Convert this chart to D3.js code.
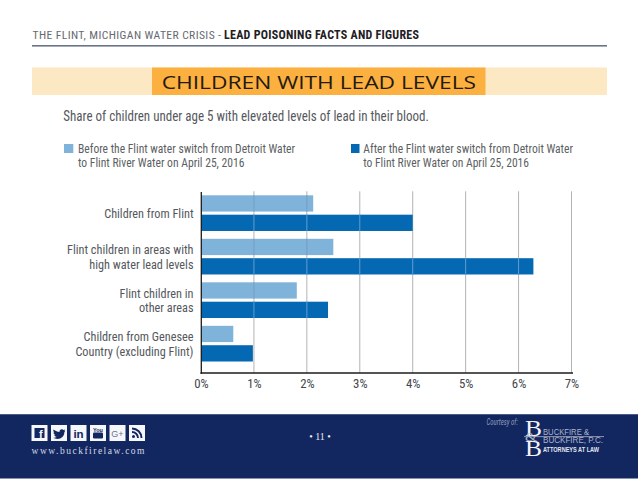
<!DOCTYPE html>
<html><head><meta charset="utf-8">
<script src="https://cdn.jsdelivr.net/npm/d3@7"></script>
<style>html,body{margin:0;padding:0;background:#fff}svg{display:block}</style>
</head><body><div id="c"></div>
<script>
const categories=["Children from Flint","Flint children in areas with|high water lead levels","Flint children in|other areas","Children from Genesee|Country (excluding Flint)"];
const seriesKeys=["before","after"];
const beforeValues=[2.12,2.5,1.81,0.61];
const afterValues=[4.0,6.28,2.4,0.98];
const xTicks=[0,1,2,3,4,5,6,7];
const legendBefore=["Before the Flint water switch from Detroit Water","to Flint River Water on April 25, 2016"];
const legendAfter=["After the Flint water switch from Detroit Water","to Flint River Water on April 25, 2016"];
const colors={before:"#80b3da",after:"#0568b3"};
const gridOnBar={before:"#6f9dc0",after:"#6ba4d0"};

const F="'Roboto Condensed','Liberation Sans Narrow',Roboto,sans-serif";
const serif="'Liberation Serif',serif", sans="'Liberation Sans',sans-serif";
const svg=d3.select("#c").append("svg").attr("width",638).attr("height",479);
function label(x,y,s,size,fill,o={}){
  const t=svg.append("text").attr("x",x).attr("y",y).text(s).attr("font-size",size).attr("fill",fill)
    .attr("text-anchor",o.anchor||"start").attr("font-family",o.family||F).attr("font-weight",o.weight||400);
  if(o.style)t.attr("font-style",o.style);
  if(o.width)t.attr("textLength",o.width).attr("lengthAdjust",o.adjust||"spacingAndGlyphs");
  if(o.squeeze)t.attr("textLength",t.node().getComputedTextLength()*o.squeeze).attr("lengthAdjust","spacingAndGlyphs");
  return t;
}
function box(x,y,w,h,fill){return svg.append("rect").attr("x",x).attr("y",y).attr("width",w).attr("height",h).attr("fill",fill);}

// header
label(32.5,39,"THE FLINT, MICHIGAN WATER CRISIS -",11.6,"#666a70",{width:188.5,adjust:"spacing"});
label(224,39,"LEAD POISONING FACTS AND FIGURES",12,"#1e2024",{weight:700,width:195,adjust:"spacing"});
box(32,45,575,1.6,"#6a7688");

// title band
box(32,67.5,575,27.5,"#fde8c4");
box(152,67.5,333.5,27.5,"#fbb040");
label(161.7,89,"CHILDREN WITH LEAD LEVELS",18.6,"#231a10",{family:"'Open Sans',sans-serif",weight:500,width:314.3});

// subtitle
label(63.3,121,"Share of children under age 5 with elevated levels of lead in their blood.",14.5,"#55585d",{width:365.7});

// legend
box(64,144,9.3,9,colors.before);
label(78,153,legendBefore[0],12.8,"#5c5f64",{width:217});
label(78,167.3,legendBefore[1],12.8,"#5c5f64",{width:166.5});
box(351,144,8.5,9,colors.after);
label(363.3,153,legendAfter[0],12.8,"#5c5f64",{width:209.7});
label(363.3,167.3,legendAfter[1],12.8,"#5c5f64",{width:165.7});

// chart
const x=d3.scaleLinear().domain([0,7]).range([201,571.5]);
const y0=d3.scaleBand().domain(categories).range([195.3,361.5]).paddingInner(0.18);
const y1=d3.scaleBand().domain(seriesKeys).range([0,y0.bandwidth()]).paddingInner(0.16);
const data=categories.map((c,i)=>({c,before:beforeValues[i],after:afterValues[i]}));

// grid lines
svg.append("g").selectAll("line").data(xTicks.slice(1)).join("line")
  .attr("x1",d=>x(d)).attr("x2",d=>x(d)).attr("y1",191.3).attr("y2",373)
  .attr("stroke","#aaaaaa").attr("stroke-width",.9);

const cat=svg.append("g").selectAll("g").data(data).join("g")
  .attr("transform",d=>`translate(0,${y0(d.c)})`);
const bar=cat.selectAll("g").data(d=>seriesKeys.map(k=>({k,v:d[k]}))).join("g");
bar.append("rect")
  .attr("x",x(0)).attr("y",d=>y1(d.k)).attr("width",d=>x(d.v)-x(0)).attr("height",y1.bandwidth())
  .attr("fill",d=>colors[d.k]);
// grid lines showing through the bars
bar.selectAll("line").data(d=>xTicks.slice(1).filter(t=>t<d.v).map(t=>({t,k:d.k}))).join("line")
  .attr("x1",d=>x(d.t)).attr("x2",d=>x(d.t))
  .attr("y1",d=>y1(d.k)).attr("y2",d=>y1(d.k)+y1.bandwidth())
  .attr("stroke",d=>gridOnBar[d.k]).attr("stroke-width",.9);

const axB=svg.append("g").attr("transform","translate(0,373)")
  .call(d3.axisBottom(x).tickValues(xTicks).tickFormat(d=>d+"%").tickSize(0).tickPadding(5));
axB.select(".domain").attr("d",`M${x(0)-.5},0H${x(7)+1.5}`).attr("stroke","#1d1d1d").attr("stroke-width",1.3);
axB.selectAll("text").attr("font-family",F).attr("font-size",13.5).attr("fill","#44474b")
  .each(function(){d3.select(this).attr("textLength",this.getComputedTextLength()*.95).attr("lengthAdjust","spacingAndGlyphs");});

const axL=svg.append("g").attr("transform","translate(200.8,0)")
  .call(d3.axisLeft(d3.scaleLinear().domain([0,1]).range([373.5,191.5])).tickValues([]).tickSize(0));
axL.select(".domain").attr("stroke","#1d1d1d").attr("stroke-width",1.3);

// category labels
const lh=14.5;
categories.forEach(c=>{
  const lines=c.split("|"), mid=y0(c)+y0.bandwidth()/2;
  lines.forEach((l,j)=>{
    label(193.5,mid+4.8+(j-(lines.length-1)/2)*lh,l,13.6,"#55585d",{anchor:"end",squeeze:.9});
  });
});

// footer
box(0,414,638,64.5,"#12265f");
box(0,414,638,.8,"#5c6a94");
const iconX=[31.5,51,70.5,90,109.5,129];
iconX.forEach(v=>box(v,425,16,16,"#f6f7fa"));
const navy="#12265f";
// facebook
box(34.5,428,10,10,navy);
label(39,438,"f",11,"#f6f7fa",{family:sans,weight:700});
// twitter
svg.append("path").attr("d","M53.5 429.5c2 1.5 4 2.5 6 2.5-.3-2.5 2.7-3.5 4-2l1.7-.5-.9 1.5 1.2-.2-1.1 1.2c0 4-3 7-7 7-1.6 0-3-.5-4-1.2 1.3 0 2.5-.3 3.3-1-1.2 0-2-.8-2.4-1.8h1.1c-1.2-.4-1.9-1.4-1.9-2.5l1 .3c-1-.8-1.4-2-1-3.3z").attr("fill",navy);
label(78.5,437.5,"in",11.5,navy,{family:sans,weight:700,anchor:"middle"});
// youtube
label(98,431.5,"You",5.5,navy,{family:sans,weight:700,anchor:"middle"});
svg.append("rect").attr("x",93).attr("y",432.5).attr("width",10).attr("height",6).attr("rx",1.3).attr("fill",navy);
label(117.5,437,"G+",9,"#6a7488",{family:sans,anchor:"middle"});
// rss
svg.append("circle").attr("cx",133.5).attr("cy",436.5).attr("r",1.5).attr("fill",navy);
svg.append("path").attr("d","M132 432a6 6 0 0 1 6 6M132 428.5a9.5 9.5 0 0 1 9.5 9.5").attr("fill","none").attr("stroke",navy).attr("stroke-width",1.9);

label(31.5,454.3,"www.buckfirelaw.com",9.5,"#d6dae6",{family:serif,width:113,adjust:"spacing"});
label(320,439.5,"• 11 •",10,"#e8eaf2",{family:serif,anchor:"middle"});
label(486.5,424.8,"Courtesy of:",9.5,"#8f9ab8",{style:"italic",width:31.5});

// logo
label(525,435.5,"B",24,"#f2f3f7",{family:serif,width:17});
label(525,456,"B",24,"#f2f3f7",{family:serif,width:17});
label(525,441,"&",13,"#aeb4c8",{family:serif,width:12});
label(543,435.4,"BUCKFIRE &",8.2,"#aeb4c8",{family:sans,width:46});
label(543,443,"BUCKFIRE, P.C.",8.2,"#aeb4c8",{family:sans,width:60});
label(543,452,"ATTORNEYS AT LAW",6.5,"#e4e6ee",{family:sans,weight:700,width:56});
box(524,436.3,80,.8,"#aeb4c8");
</script></body></html>
